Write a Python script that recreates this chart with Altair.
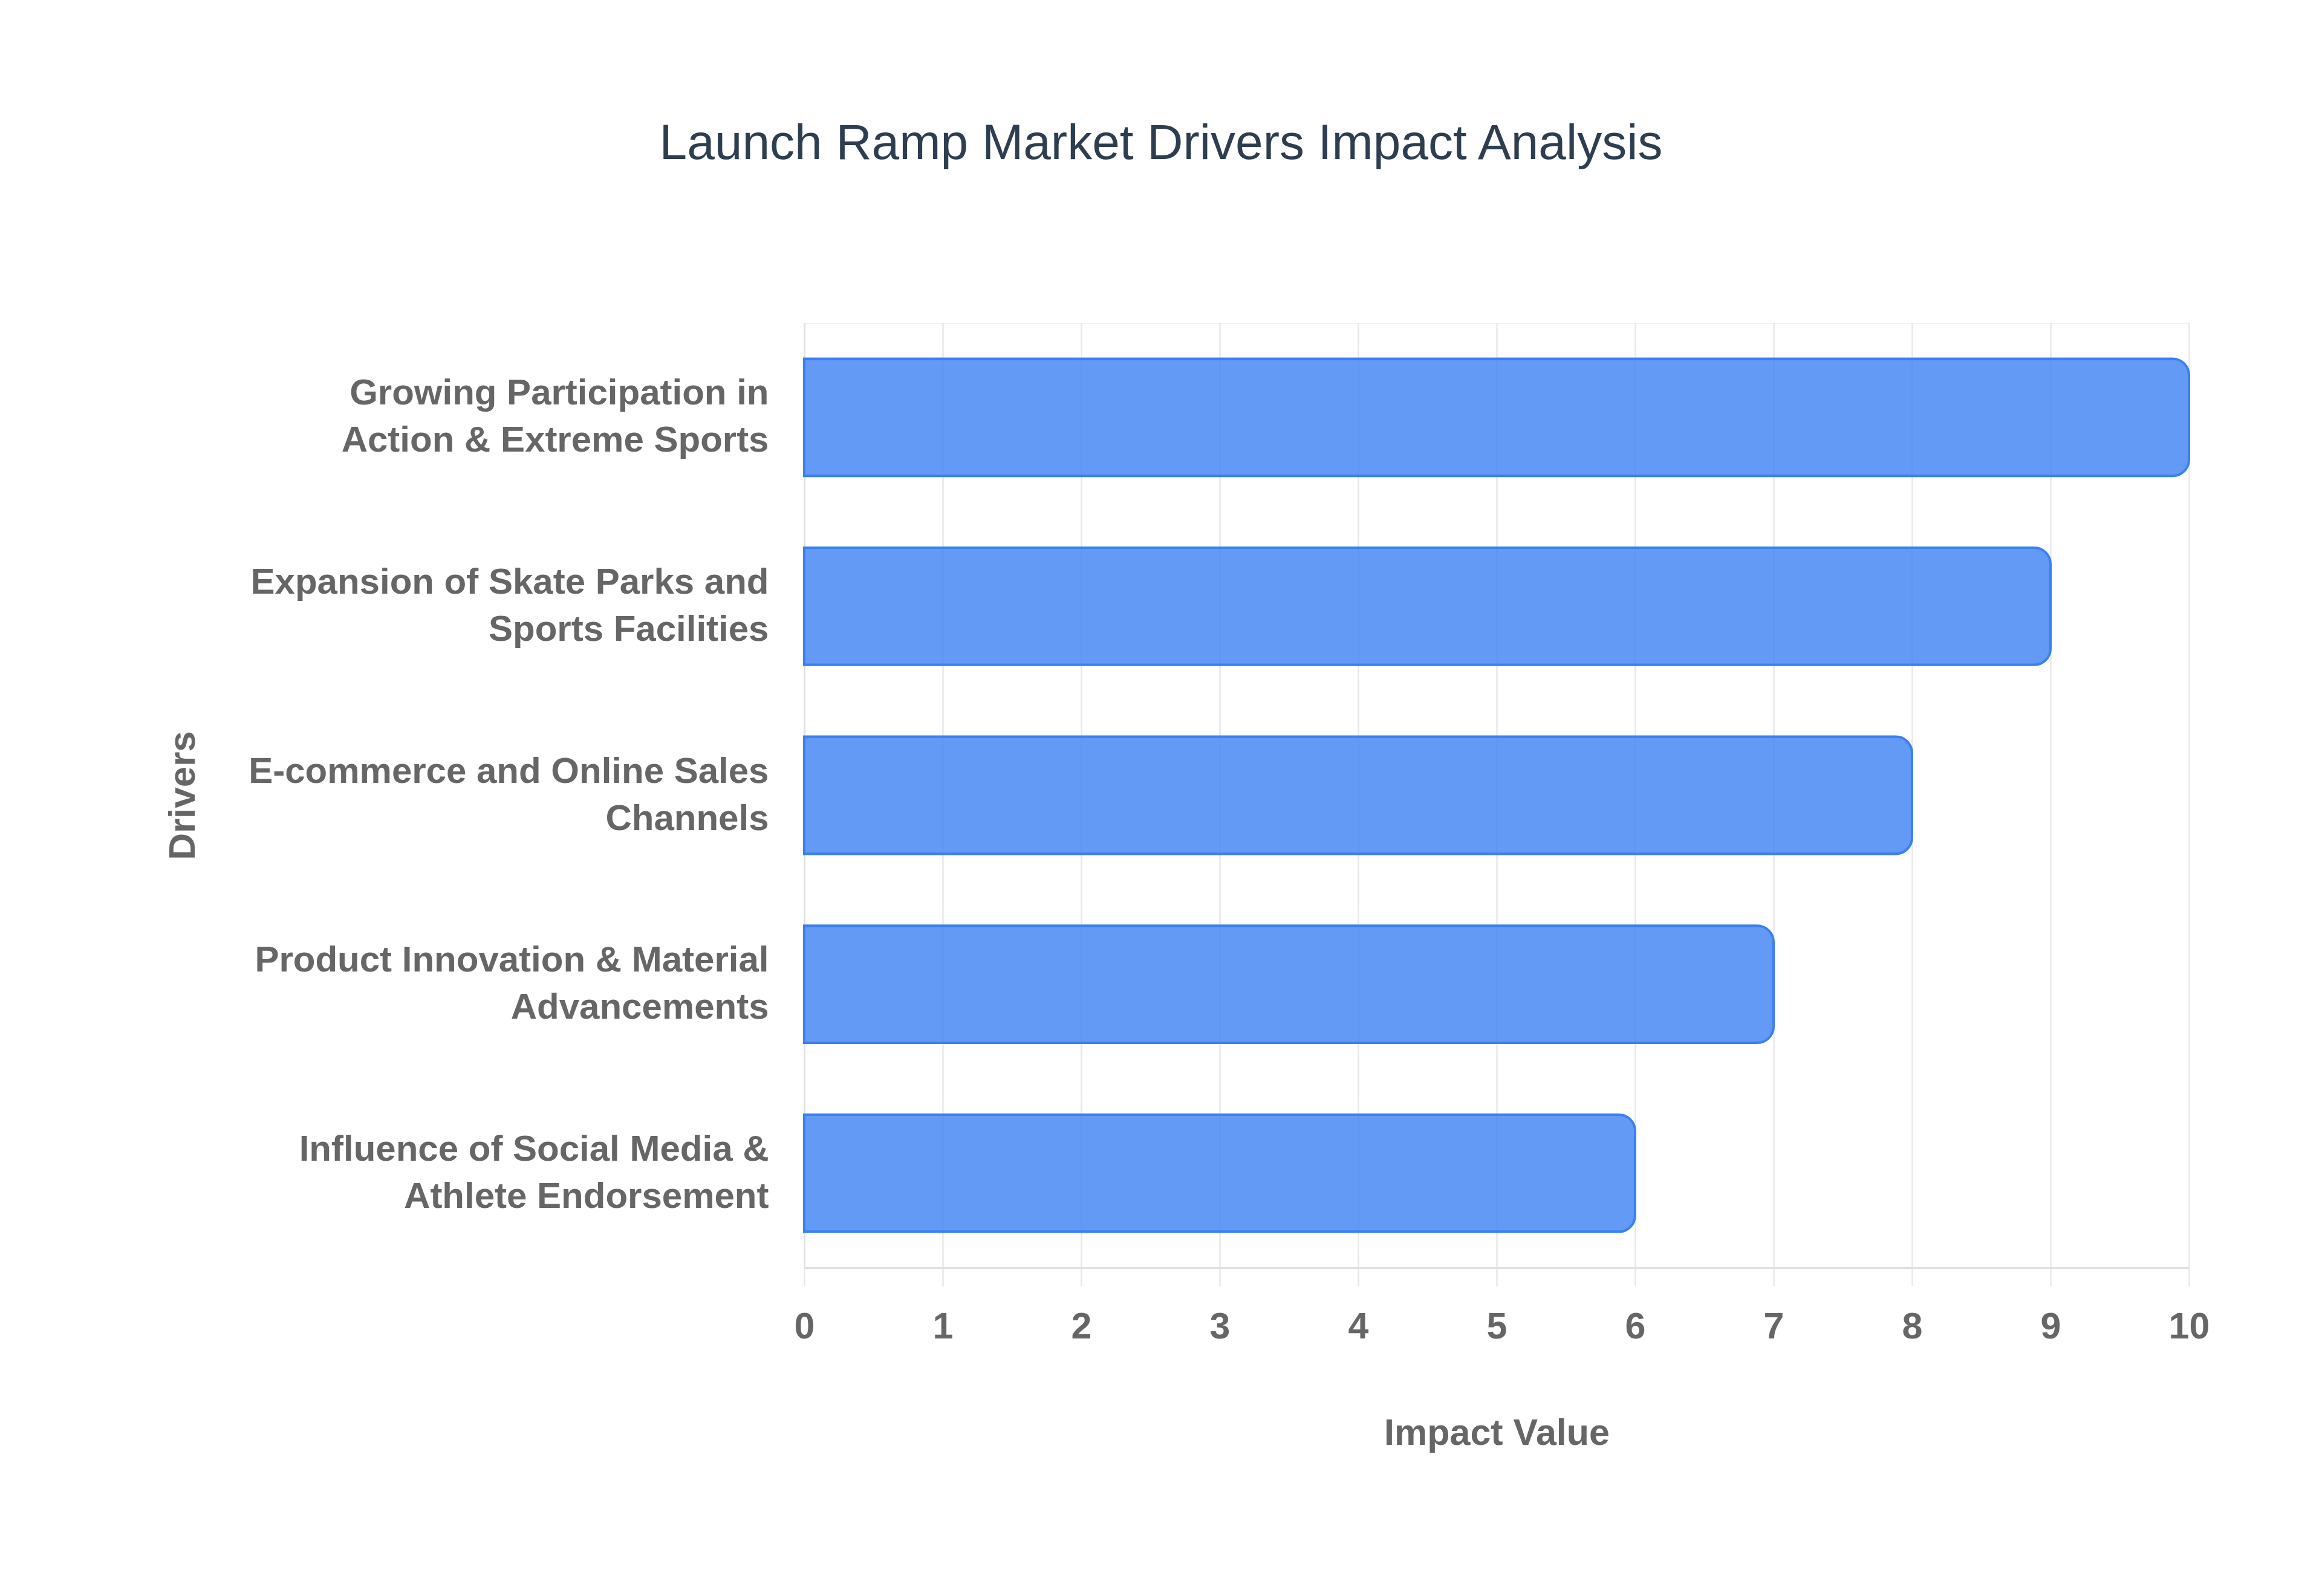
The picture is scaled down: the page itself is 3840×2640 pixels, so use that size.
import pandas as pd
import altair as alt

# chart data
drivers = [
    "Growing Participation in\nAction & Extreme Sports",
    "Expansion of Skate Parks and\nSports Facilities",
    "E-commerce and Online Sales\nChannels",
    "Product Innovation & Material\nAdvancements",
    "Influence of Social Media &\nAthlete Endorsement",
]
impact = [10, 9, 8, 7, 6]
x_ticks = list(range(0, 11))

df = pd.DataFrame({'driver': drivers, 'impact': impact})

grey = '#666666'
font = 'Liberation Sans'

bars = alt.Chart(df).mark_bar(
    fill='#4285f4', fillOpacity=0.83,
    stroke='#3b7ff2', strokeWidth=4,
    cornerRadiusEnd=27
).encode(
    x=alt.X('impact:Q', title='Impact Value',
            scale=alt.Scale(domain=[0, 10], nice=False),
            axis=alt.Axis(values=x_ticks, format='d', labelFlush=False,
                          grid=True, gridColor='#e8e8e8', gridWidth=2.5,
                          domainColor='#e0e0e0', domainWidth=3,
                          tickColor='#e8e8e8', tickWidth=2.5, tickSize=30,
                          labelFont=font, labelFontSize=61, labelFontWeight='bold',
                          labelColor=grey, labelPadding=38,
                          titleFont=font, titleFontSize=61, titleFontWeight='bold',
                          titleColor=grey, titleY=274, titleBaseline='middle')),
    y=alt.Y('driver:N', title='Drivers', sort=drivers,
            scale=alt.Scale(paddingInner=0.38, paddingOuter=0.19),
            axis=alt.Axis(ticks=False, tickSize=0,
                          domainColor='#e0e0e0', domainWidth=3,
                          labelExpr="split(datum.label, '\\n')",
                          labelFont=font, labelFontSize=60, labelFontWeight='bold',
                          labelColor=grey, labelPadding=59, labelLineHeight=78,
                          labelOffset=-39,
                          labelLimit=1200, labelBaseline='middle',
                          titleFont=font, titleFontSize=62, titleFontWeight='bold',
                          titleColor=grey, titleX=-1028, titleBaseline='middle'))
)

chart = bars.properties(
    width=2290, height=1563,
    autosize=alt.AutoSizeParams(type='none'),
    padding={'left': 1322, 'top': 526, 'right': 212, 'bottom': 535},
    title=alt.Title('Launch Ramp Market Drivers Impact Analysis',
                    font=font, fontSize=82, fontWeight='normal', color='#2c3e50',
                    anchor='middle', dx=-555, offset=189, baseline='alphabetic')
).configure_view(stroke=None).configure(background='white')

chart.save("out.html", embed_options={"renderer": "svg", "actions": False})
